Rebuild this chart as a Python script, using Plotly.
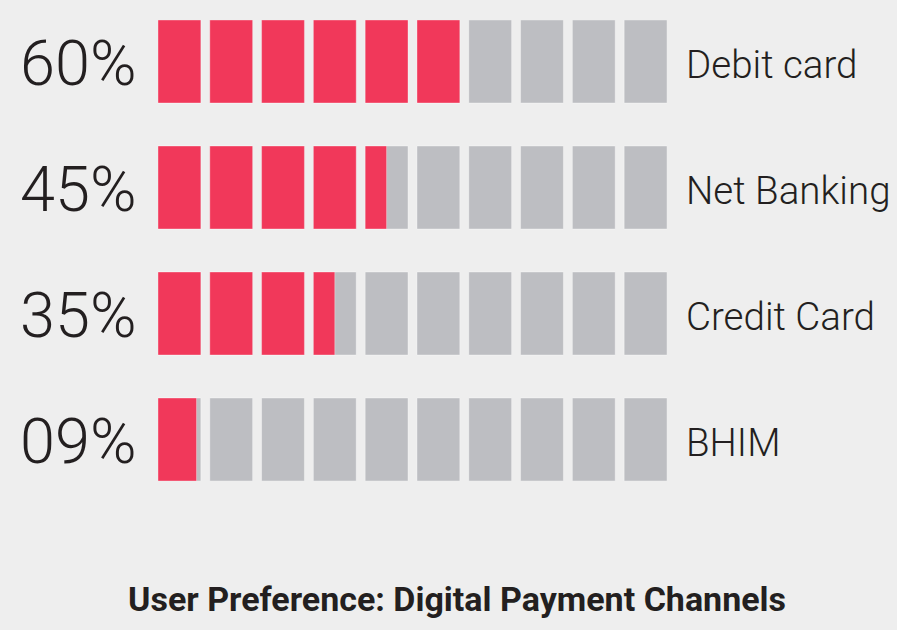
import plotly.graph_objects as go

channels = ["Debit card", "Net Banking", "Credit Card", "BHIM"]
values = [60, 45, 35, 9]
pct_labels = ["60%", "45%", "35%", "09%"]
n_blocks = 10
title_text = "User Preference: Digital Payment Channels"

RED = "#f1385a"
GRAY = "#bdbec2"
BG = "#eeeeee"
TXT = "#231f20"

W, H = 897, 630
left, right_px, top, bottom_px = 158, 667, 20, 481
pitch_px, block_px = 52, 43
bw = block_px / pitch_px          # block width in x units
row_h = 83 / 126                  # bar thickness in y units

fig = go.Figure()

gx, gy, gb = [], [], []
rx, ry, rb = [], [], []
for r, v in enumerate(values):
    for i in range(n_blocks):
        gx.append(bw); gy.append(r); gb.append(i)
        frac = min(1.0, max(0.0, v / 10 - i))
        if frac > 0:
            rx.append(bw * frac); ry.append(r); rb.append(i)

fig.add_trace(go.Bar(x=gx, y=gy, base=gb, orientation="h", width=row_h,
                     marker=dict(color=GRAY, line=dict(color="rgba(255,255,255,0.35)", width=1)),
                     hoverinfo="skip", showlegend=False))
fig.add_trace(go.Bar(x=rx, y=ry, base=rb, orientation="h", width=row_h,
                     marker=dict(color=RED, line=dict(color="rgba(255,255,255,0.35)", width=1)),
                     hoverinfo="skip", showlegend=False))

plot_w = right_px - left
def px2paper(px):
    return (px - left) / plot_w

for r, (lab, ch) in enumerate(zip(pct_labels, channels)):
    fig.add_annotation(x=px2paper(138), xref="paper", y=r, yref="y", text=lab,
                       showarrow=False, xanchor="right", yanchor="middle", yshift=-2,
                       font=dict(family="Roboto", size=63, color=TXT, weight=300))
    fig.add_annotation(x=px2paper(684), xref="paper", y=r, yref="y", text=ch,
                       showarrow=False, xanchor="left", yanchor="middle", yshift=-3,
                       font=dict(family="Roboto", size=38.5, color=TXT, weight=300))

fig.add_annotation(x=px2paper(457), xref="paper", y=-(599 - bottom_px) / (bottom_px - top),
                   yref="paper", text=title_text, showarrow=False,
                   xanchor="center", yanchor="middle",
                   font=dict(family="Roboto", size=34, color=TXT, weight=700))

y_top = 0 - (61.5 - top) / 126
y_bot = 3 + (bottom_px - 439.5) / 126

fig.update_layout(
    width=W, height=H,
    margin=dict(l=left, r=W - right_px, t=top, b=H - bottom_px),
    paper_bgcolor=BG, plot_bgcolor=BG,
    barmode="overlay",
    xaxis=dict(range=[0, n_blocks - 1 + bw], visible=False, fixedrange=True),
    yaxis=dict(range=[y_bot, y_top], visible=False, fixedrange=True),
)

fig.write_html("out.html")
